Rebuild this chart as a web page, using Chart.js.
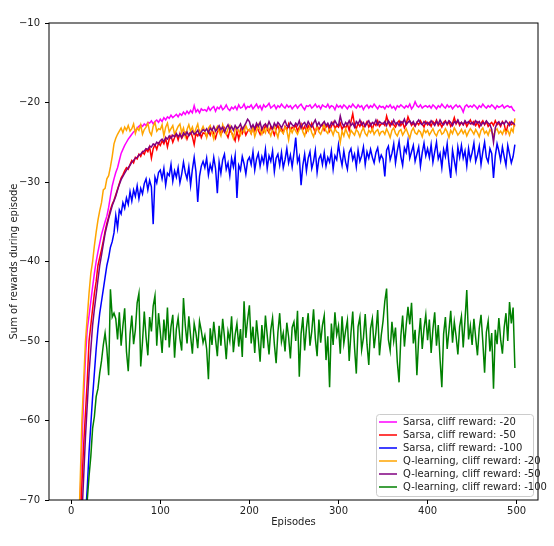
<!DOCTYPE html>
<html>
<head>
<meta charset="utf-8">
<script src="https://cdn.jsdelivr.net/npm/chart.js@4.4.1/dist/chart.umd.min.js"></script>
<style>
  html, body { margin: 0; padding: 0; background: #fff; }
  #wrap { position: relative; width: 554px; height: 546px; }
</style>
</head>
<body>
<div id="wrap"><canvas id="rewardChart"></canvas></div>
<script>
// one point every 2 episodes
const episodes = Array.from({ length: 250 }, (_, i) => i * 2);

const seriesLabels = [
    'Sarsa, cliff reward: -20',
    'Sarsa, cliff reward: -50',
    'Sarsa, cliff reward: -100',
    'Q-learning, cliff reward: -20',
    'Q-learning, cliff reward: -50',
    'Q-learning, cliff reward: -100'
];

const xTicks = [0, 100, 200, 300, 400, 500];
const yTicks = [-70, -60, -50, -40, -30, -20, -10];

const sarsa20 = [
    -118, -104, -93, -84, -76, -70, -63, -57, -52, -48.5, -46.8, -45, -43.2, -41.5, -40, -38.8, -37.7, -36.6, -35.8, -35.0, -34.3, -33.2, -31.8, -30.5, -29.6,
    -28.8, -28.2, -27.3, -26.4, -25.9, -25.4, -25.0, -24.6, -24.3, -24.0, -23.7, -23.5, -23.2, -23.0, -22.8, -23.0, -22.7, -22.9, -22.5, -22.6, -22.3, -22.7, -22.4, -22.2, -22.5,
    -22.1, -22.4, -21.9, -22.2, -21.8, -22.0, -21.6, -21.9, -21.7, -21.5, -21.8, -21.4, -21.6, -21.2, -21.5, -21.1, -21.4, -21.0, -21.3, -20.4, -21.2, -20.9, -21.3, -20.8, -21.0,
    -20.9, -21.1, -20.6, -21.0, -20.7, -20.5, -21.1, -20.6, -20.8, -20.4, -20.9, -20.7, -20.3, -20.8, -21.0, -20.6, -20.8, -20.5, -20.9, -20.3, -20.7, -20.6, -20.2, -20.8, -20.5,
    -20.6, -20.3, -20.8, -20.5, -20.2, -20.7, -20.4, -20.9, -20.3, -20.6, -20.4, -20.1, -20.7, -20.5, -20.3, -20.8, -20.4, -20.6, -20.2, -20.5, -20.7, -20.3, -20.6, -20.4, -20.8,
    -20.5, -20.3, -20.7, -20.4, -20.2, -20.6, -20.9, -20.4, -20.5, -20.3, -20.7, -20.5, -20.2, -20.6, -20.4, -20.8, -20.3, -20.5, -20.6, -20.2, -20.7, -20.4, -20.5, -20.9, -20.3,
    -20.6, -20.4, -20.7, -20.3, -20.5, -20.8, -20.4, -20.6, -20.2, -20.5, -20.7, -20.3, -20.6, -20.4, -20.9, -20.5, -20.3, -20.7, -20.4, -20.6, -20.2, -20.5, -20.8, -20.4, -20.6,
    -20.5, -20.8, -20.4, -20.6, -20.3, -20.7, -20.5, -20.9, -20.4, -20.6, -20.3, -20.5, -20.7, -20.4, -20.6, -20.2, -20.8, -20.5, -19.9, -20.4, -20.6, -20.3, -20.7, -20.5, -20.4,
    -20.6, -20.4, -20.7, -20.3, -20.5, -20.8, -20.4, -20.6, -20.2, -20.5, -20.7, -20.3, -20.6, -20.4, -20.8, -20.5, -20.3, -20.6, -20.4, -20.7, -21.2, -20.5, -20.3, -20.6, -20.4,
    -20.6, -20.3, -20.5, -20.8, -20.4, -20.6, -20.2, -20.5, -20.7, -20.4, -20.6, -20.3, -20.5, -20.8, -20.4, -20.6, -20.5, -20.3, -20.7, -20.5, -20.4, -20.6, -20.5, -20.9, -21.1
];

const sarsa50 = [
    -125, -110, -98, -88, -80, -74, -68, -63, -59, -55, -50, -48, -46, -44, -42.5, -40.5, -39.5, -38.5, -37.4, -36.2, -35.2, -34.4, -33.5, -32.8, -32.3,
    -31.6, -30.9, -30.2, -29.5, -29.1, -28.6, -28.2, -28.4, -27.8, -27.3, -27.6, -26.9, -27.1, -26.5, -26.8, -26.2, -26.5, -25.9, -26.2, -25.6, -27.0, -25.8, -25.3, -25.9, -25.1,
    -25.4, -24.8, -25.2, -24.5, -25.6, -24.6, -24.2, -25.0, -24.4, -24.0, -24.7, -23.9, -24.5, -24.1, -23.8, -24.6, -24.0, -23.7, -24.3, -25.3, -23.9, -24.2, -23.6, -24.4, -23.8,
    -23.9, -24.3, -23.6, -24.1, -23.4, -23.9, -24.5, -23.7, -23.3, -24.0, -23.6, -23.2, -23.9, -24.4, -23.5, -23.8, -24.2, -24.8, -23.6, -24.6, -23.4, -23.9, -23.3, -24.1, -23.6,
    -23.4, -23.9, -23.1, -23.6, -22.9, -23.5, -24.0, -23.2, -23.7, -22.8, -23.4, -23.8, -23.0, -23.5, -24.1, -23.3, -22.9, -23.6, -23.2, -23.8, -23.0, -23.4, -22.7, -23.5, -23.1,
    -23.3, -22.8, -23.6, -23.1, -22.7, -23.4, -23.0, -23.7, -22.9, -23.3, -22.6, -23.2, -23.8, -22.9, -23.4, -23.0, -22.7, -23.5, -23.1, -22.8, -23.6, -23.0, -22.5, -23.3, -22.9,
    -23.1, -22.6, -23.4, -22.9, -23.2, -22.7, -23.5, -22.4, -21.4, -22.8, -23.3, -22.6, -23.0, -22.5, -23.2, -22.8, -22.4, -23.1, -22.7, -23.4, -22.6, -22.9, -22.3, -23.0, -22.7,
    -22.6, -22.9, -21.7, -22.5, -23.0, -22.4, -22.8, -23.1, -22.6, -22.3, -22.9, -22.5, -23.2, -22.7, -21.8, -22.4, -22.9, -22.6, -23.0, -22.5, -22.8, -22.3, -22.7, -23.1, -22.4,
    -22.8, -22.5, -23.0, -22.4, -22.7, -22.2, -22.9, -22.6, -23.1, -22.5, -22.3, -22.8, -22.4, -23.0, -22.6, -21.9, -22.7, -22.3, -22.9, -22.5, -22.8, -22.4, -23.0, -22.6, -22.2,
    -22.7, -22.4, -22.9, -22.5, -23.1, -22.6, -22.3, -22.8, -22.4, -23.0, -22.7, -22.5, -22.9, -22.3, -22.8, -22.6, -23.0, -22.4, -22.7, -23.8, -22.9, -22.5, -22.8, -22.6, -23.0
];

const sarsa100 = [
    -140, -125, -112, -102, -94, -87, -81, -76, -72, -68.5, -64, -60.5, -57, -54, -51, -48.5, -46.5, -45, -43.5, -42, -40.5, -39.5, -38.2, -37.5, -36.4,
    -34.2, -35.8, -33.5, -34.0, -32.6, -33.3, -32.0, -32.8, -31.2, -32.4, -31.0, -31.8, -30.5, -32.1, -30.8, -31.5, -30.2, -29.6, -31.0, -29.8, -30.6, -35.3, -29.4, -30.1, -28.8,
    -28.5, -29.6, -28.3, -30.4, -28.9, -29.2, -27.8, -29.9, -28.6, -29.4, -28.2, -30.1, -29.0, -27.5, -28.8, -29.6, -28.1, -30.4, -28.4, -26.9, -28.7, -32.5, -29.3, -28.0, -27.4,
    -28.2, -27.0, -29.1, -27.8, -28.6, -26.9, -28.3, -31.4, -27.5, -28.9, -27.2, -26.5, -28.4, -27.6, -29.2, -27.0, -28.1, -26.7, -32.0, -27.9, -28.5, -26.8, -27.7, -29.0, -27.3,
    -26.9, -27.8, -26.2, -28.5, -27.1, -26.4, -28.0, -26.8, -27.6, -25.9, -28.3, -26.7, -27.4, -26.1, -28.7, -27.0, -26.5, -27.9, -26.3, -28.2, -27.2, -25.8, -27.6, -26.6, -28.1,
    -26.4, -24.4, -27.5, -26.8, -30.4, -27.9, -26.5, -28.6, -27.0, -26.2, -28.3, -27.4, -26.0, -28.8, -27.1, -26.6, -27.8, -26.3, -28.0, -26.9, -27.5, -26.1, -28.4, -26.7, -27.2,
    -25.3, -26.8, -27.9, -26.1, -27.5, -28.4, -26.3, -25.8, -27.2, -26.5, -28.1, -26.0, -27.4, -26.7, -25.6, -27.8, -26.2, -27.0, -25.9, -26.9, -27.6, -26.3, -25.7, -27.3, -26.6,
    -27.1, -29.3, -26.0, -25.5, -27.2, -26.4, -25.2, -27.6, -26.1, -24.9, -26.8, -27.9, -25.7, -26.3, -24.8, -27.0, -26.2, -25.4, -27.4, -26.5, -25.6, -28.0, -26.3, -25.1, -26.7,
    -25.8, -26.9, -25.3, -27.5, -26.2, -25.0, -27.1, -26.4, -28.2, -25.9, -26.8, -25.2, -27.7, -29.5, -26.0, -27.3, -28.6, -25.6, -26.9, -25.4, -27.0, -26.1, -28.0, -25.8, -27.2,
    -26.3, -25.1, -27.4, -26.6, -25.5, -27.8, -26.2, -25.0, -26.9, -27.5, -25.8, -26.4, -29.5, -26.7, -25.2, -26.1, -27.3, -25.6, -26.8, -27.9, -25.4, -26.5, -27.6, -26.8, -25.3
];

const qlearn20 = [
    -115, -100, -90, -82, -75, -68, -60, -55, -50, -47, -44, -41.5, -40, -38, -36.3, -34.8, -33.6, -32.6, -31.0, -30.8, -29.6, -29.2, -28.1, -26.8, -25.2,
    -24.5, -24.0, -23.6, -23.2, -23.8, -23.1, -23.5, -22.9, -23.6, -23.3, -22.7, -23.9, -23.2, -23.5, -22.8, -24.0, -23.4, -23.1, -22.6, -23.7, -24.1, -23.0, -22.5, -23.6, -23.3,
    -23.4, -22.8, -24.2, -23.1, -22.6, -23.7, -23.3, -22.9, -24.0, -23.5, -23.0, -22.7, -23.8, -23.2, -24.3, -23.4, -22.8, -23.6, -23.1, -24.0, -23.3, -22.7, -23.9, -23.5, -23.0,
    -23.6, -24.4, -23.2, -22.9, -23.8, -24.6, -23.4, -23.0, -23.7, -24.2, -22.8, -23.5, -24.0, -23.3, -22.9, -23.8, -24.5, -23.4, -23.1, -23.6, -24.1, -23.2, -23.7, -22.9, -23.5,
    -23.4, -23.9, -23.1, -24.3, -23.6, -22.8, -23.5, -24.0, -23.3, -23.8, -22.9, -23.6, -24.2, -23.4, -23.0, -23.7, -24.4, -23.2, -23.6, -23.9, -23.1, -23.5, -24.7, -23.3, -23.8,
    -23.2, -23.6, -24.0, -23.4, -22.9, -23.7, -24.2, -23.3, -23.6, -23.0, -23.8, -24.3, -23.5, -23.1, -23.7, -24.0, -23.4, -22.8, -23.6, -23.9, -23.2, -23.5, -24.1, -23.3, -23.7,
    -23.8, -25.0, -23.6, -24.2, -23.3, -23.9, -24.4, -23.5, -23.8, -24.1, -23.4, -23.7, -24.3, -23.6, -23.2, -23.9, -24.2, -23.5, -23.8, -23.3, -24.0, -23.6, -23.4, -24.1, -23.7,
    -23.6, -24.0, -23.3, -23.8, -24.4, -23.5, -23.2, -23.9, -24.2, -23.6, -23.4, -24.1, -23.7, -23.3, -23.9, -24.5, -23.6, -23.2, -23.8, -24.0, -23.5, -23.7, -24.3, -23.4, -23.8,
    -23.5, -24.1, -23.7, -23.3, -23.9, -24.2, -23.6, -23.4, -24.0, -23.8, -23.3, -23.7, -24.4, -23.5, -23.9, -23.2, -23.6, -24.1, -23.8, -23.4, -23.9, -23.5, -24.2, -23.7, -23.3,
    -23.6, -24.0, -23.4, -23.8, -24.3, -23.5, -23.2, -23.9, -23.6, -24.1, -23.4, -23.7, -24.2, -23.5, -23.3, -23.9, -23.6, -24.0, -23.4, -23.8, -23.5, -24.1, -23.3, -23.7, -22.0
];

const qlearn50 = [
    -130, -115, -102, -92, -84, -78, -72, -67, -62, -58, -54, -51, -48, -46, -44.2, -42.3, -40.5, -39.2, -37.8, -36.5, -35.5, -34.6, -33.8, -33.0, -32.4,
    -31.8, -31.0, -30.3, -29.7, -29.3, -28.9, -28.5, -28.2, -27.9, -27.5, -27.3, -27.0, -26.9, -26.6, -26.5, -26.2, -26.1, -25.8, -25.9, -25.5, -25.6, -25.2, -25.4, -25.0, -25.2,
    -24.8, -24.6, -24.9, -24.4, -24.6, -24.2, -24.5, -24.1, -24.3, -23.9, -24.3, -24.0, -24.4, -23.8, -24.1, -23.7, -24.2, -23.9, -23.6, -24.0, -23.8, -23.5, -24.1, -23.7, -23.4,
    -23.6, -23.3, -23.8, -23.2, -23.5, -23.0, -23.6, -23.3, -22.9, -23.4, -23.1, -23.7, -23.2, -22.8, -23.4, -23.0, -23.5, -22.9, -23.3, -23.1, -22.7, -23.4, -23.0, -22.6, -22.1,
    -22.4, -23.2, -22.8, -23.3, -22.6, -23.0, -22.5, -23.4, -22.9, -22.7, -23.1, -22.4, -22.9, -23.3, -22.6, -23.0, -22.5, -22.8, -23.2, -22.7, -22.3, -22.9, -23.1, -22.5, -22.8,
    -23.0, -22.6, -22.9, -22.3, -23.2, -22.7, -22.5, -23.0, -22.4, -22.8, -23.1, -22.6, -22.2, -22.9, -22.5, -23.0, -22.7, -22.4, -22.9, -22.6, -23.1, -22.5, -22.8, -22.3, -22.7,
    -22.9, -21.7, -22.6, -23.0, -22.5, -22.8, -22.3, -22.9, -22.6, -23.1, -22.4, -22.7, -22.2, -22.8, -22.5, -23.0, -22.6, -22.3, -22.9, -22.5, -22.7, -22.2, -22.8, -22.4, -22.6,
    -22.7, -22.4, -22.9, -22.3, -22.6, -22.8, -22.2, -22.7, -22.5, -22.9, -22.4, -22.6, -22.1, -22.8, -22.5, -22.3, -22.7, -22.4, -22.9, -22.5, -22.2, -22.6, -22.8, -22.4, -22.7,
    -22.5, -22.8, -22.3, -22.6, -22.9, -22.4, -22.7, -22.2, -22.6, -22.8, -22.4, -22.7, -22.3, -22.5, -22.9, -22.4, -22.6, -22.2, -22.7, -22.5, -22.8, -22.3, -22.6, -22.4, -22.7,
    -22.5, -22.8, -22.3, -22.6, -22.4, -22.9, -22.5, -22.7, -22.3, -22.6, -22.8, -23.4, -25.0, -23.2, -22.6, -22.4, -22.8, -22.5, -22.7, -22.3, -22.6, -22.9, -22.4, -22.6, -22.8
];

const qlearn100 = [
    -150, -135, -122, -110, -100, -92, -85, -79, -74, -70, -67, -64.5, -61, -59.5, -57, -56, -54, -52.5, -50.5, -49, -51, -54.3, -43.5, -47, -46.5,
    -47.2, -49.8, -46.4, -50.6, -48.1, -45.9, -51.3, -53.8, -49.2, -46.8, -50.4, -48.6, -45.2, -44.0, -53.2, -50.1, -46.3, -49.5, -51.8, -47.0, -48.8, -45.6, -44.3, -50.6, -46.5,
    -48.9, -51.5, -47.3, -49.9, -45.8, -50.8, -48.2, -46.7, -52.1, -48.5, -47.1, -49.7, -51.2, -44.6, -48.0, -50.3, -46.9, -49.4, -51.6, -47.8, -49.0, -50.9, -47.5, -48.7, -50.2,
    -49.3, -51.0, -54.8, -48.4, -50.5, -47.6, -49.8, -51.9, -48.1, -50.6, -47.2, -49.5, -52.3, -48.8, -50.0, -46.9, -51.4, -49.2, -47.8, -50.7, -48.5, -52.0, -45.0, -49.6, -47.3,
    -45.5, -50.3, -48.2, -51.5, -47.4, -49.8, -52.6, -48.0, -50.9, -46.8, -49.3, -51.7, -48.6, -47.1, -50.4, -52.8, -48.9, -46.5, -50.1, -49.0, -51.3, -47.7, -49.5, -52.2, -48.3,
    -47.6, -50.0, -46.2, -54.5, -49.1, -47.0, -51.2, -48.4, -46.5, -50.6, -48.8, -46.0, -49.7, -51.9, -47.3, -50.2, -48.0, -46.8, -52.4, -49.4, -55.8, -47.8, -50.5, -46.4, -49.2,
    -48.1, -51.6, -46.9, -50.3, -48.7, -47.4, -52.5, -49.0, -46.3, -50.8, -54.1, -48.2, -47.0, -51.1, -49.6, -46.6, -50.4, -53.0, -48.4, -47.2, -50.9, -48.9, -46.1, -51.8, -49.3,
    -47.5, -45.0, -43.4, -49.8, -51.2, -47.6, -50.0, -48.3, -52.6, -55.2, -49.4, -46.8, -50.7, -48.0, -45.7, -47.9, -45.2, -50.3, -48.6, -54.3, -49.7, -47.1, -51.0, -48.4, -46.7,
    -49.9, -47.3, -51.5, -48.5, -46.4, -50.6, -48.0, -52.3, -55.8, -49.1, -47.0, -51.0, -48.7, -46.2, -50.2, -47.6, -49.4, -51.7, -48.2, -46.9, -50.8, -47.4, -43.6, -49.8, -48.1,
    -50.5, -47.2, -49.6, -51.8, -48.4, -46.7, -50.1, -54.0, -48.9, -47.5, -51.3, -49.0, -56.0, -48.6, -50.4, -47.1, -49.8, -51.6, -48.3, -46.5, -50.0, -45.1, -47.8, -45.8, -53.4
];

const seriesValues = [sarsa20, sarsa50, sarsa100, qlearn20, qlearn50, qlearn100];
const seriesColors = ['#ff00ff', '#ff0000', '#0000ff', '#ffa500', '#800080', '#008000'];

const textColor = '#222222';
const baseFont = { family: "'DejaVu Sans', sans-serif", size: 10 };

// matplotlib draws later lines on top, Chart.js draws higher order first
const datasets = seriesValues.map((values, i) => ({
    label: seriesLabels[i],
    data: values.map((v, j) => ({ x: episodes[j], y: v })),
    borderColor: seriesColors[i],
    backgroundColor: seriesColors[i],
    borderWidth: 1.5,
    pointRadius: 0,
    tension: 0,
    fill: false,
    order: seriesValues.length - i
}));

// full box around the axes + legend box in lower right
const framePlugin = {
    id: 'frameAndLegend',
    afterDraw(chart) {
        const ctx = chart.ctx;
        const a = chart.chartArea;
        ctx.save();
        ctx.strokeStyle = '#000';
        ctx.lineWidth = 1;
        ctx.strokeRect(a.left, a.top, a.right - a.left, a.bottom - a.top);

        const boxW = 157, boxH = 82;
        const bx = a.right - 5 - boxW, by = a.bottom - 4 - boxH;
        ctx.beginPath();
        ctx.roundRect(bx + 0.5, by + 0.5, boxW, boxH, 3);
        ctx.fillStyle = 'rgba(255,255,255,0.8)';
        ctx.fill();
        ctx.strokeStyle = '#cccccc';
        ctx.stroke();

        ctx.font = "10px 'DejaVu Sans', sans-serif";
        ctx.textBaseline = 'middle';
        ctx.textAlign = 'left';
        seriesLabels.forEach((label, i) => {
            const y = by + 8 + i * 13;
            ctx.strokeStyle = seriesColors[i];
            ctx.lineWidth = 1.5;
            ctx.beginPath();
            ctx.moveTo(bx + 3, y);
            ctx.lineTo(bx + 21, y);
            ctx.stroke();
            ctx.fillStyle = textColor;
            ctx.fillText(label, bx + 27, y);
        });
        ctx.restore();
    }
};

const minus = v => String(v).replace('-', '\u2212');

const config = {
    type: 'line',
    data: { datasets: datasets },
    options: {
        responsive: true,
        maintainAspectRatio: false,
        animation: false,
        layout: { padding: { left: 0, top: 23, right: 16, bottom: 0 } },
        plugins: {
            legend: { display: false },
            tooltip: { enabled: false }
        },
        scales: {
            x: {
                type: 'linear',
                min: -24.95,
                max: 523.95,
                afterBuildTicks: scale => { scale.ticks = xTicks.map(v => ({ value: v })); },
                afterFit: scale => { scale.height = 46; },
                ticks: { color: textColor, font: baseFont, padding: 1, maxRotation: 0, callback: minus },
                grid: { drawOnChartArea: false, drawTicks: true, tickLength: 4, tickColor: '#000' },
                border: { display: false },
                title: { display: true, text: 'Episodes', color: textColor, font: baseFont, padding: { top: 0, bottom: 18 } }
            },
            y: {
                type: 'linear',
                min: -70,
                max: -10,
                afterBuildTicks: scale => { scale.ticks = yTicks.map(v => ({ value: v })); },
                afterFit: scale => { scale.width = 49; },
                ticks: { color: textColor, font: baseFont, padding: 5, callback: minus },
                grid: { drawOnChartArea: false, drawTicks: true, tickLength: 4, tickColor: '#000' },
                border: { display: false },
                title: { display: true, text: 'Sum of rewards during episode', color: textColor, font: baseFont, padding: { top: 8, bottom: 0 } }
            }
        }
    },
    plugins: [framePlugin]
};

new Chart(
    document.getElementById('rewardChart'),
    config
);
</script>
</body>
</html>
